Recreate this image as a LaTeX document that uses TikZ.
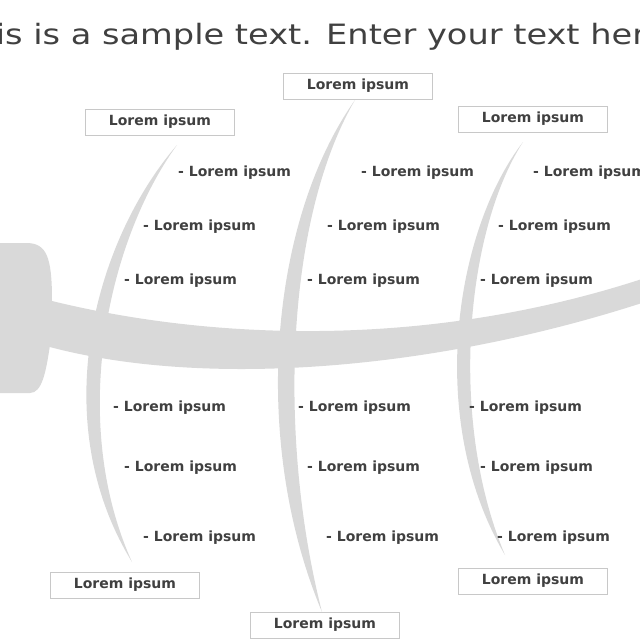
\documentclass[tikz,border=0pt]{standalone}
\usepackage{fontspec}
\setmainfont{DejaVu Sans}
\newfontfamily\titlefont[FakeStretch=1.2]{DejaVu Sans}
\usepackage{tikz}

\definecolor{bonegray}{HTML}{D9D9D9}
\definecolor{textgray}{HTML}{404040}
\definecolor{framegray}{HTML}{C8C8C8}

\tikzset{
  cause/.style={draw=framegray, line width=1pt, fill=white, minimum width=149pt,
    minimum height=26pt, inner sep=0pt, text=textgray,
    font=\fontsize{14}{16}\selectfont\bfseries},
  item/.style={anchor=west, inner sep=0pt, text=textgray,
    font=\fontsize{14}{16}\selectfont\bfseries},
  bone/.style={fill=bonegray, draw=none}
}

\begin{document}
\begin{tikzpicture}[x=1pt,y=-1pt]
    \useasboundingbox (0,0) rectangle (640,640);
    \clip (0,0) rectangle (640,640);
    %title, wider than the page
    \node[anchor=base, text=textgray, font=\titlefont\fontsize{28}{32}\selectfont] (title)
        at (310,44) {This is a sample text. Enter your text here};
    %head and spine
    \path[bone] (0,243) -- (28,243) .. controls (46,244) and (52,256) .. (52,300)
        -- (50,345) .. controls (46,372) and (42,393) .. (30,393) -- (0,393) -- cycle;
    \path[bone] (48,300) .. controls (200,338) and (420,352) .. (645,278)
        -- (645,302) .. controls (430,372) and (200,388) .. (46,346) -- cycle;
    %ribs
    \path[bone] (177,145) .. controls (95,240) and (45,420) .. (132,562)
        .. controls (68,420) and (108,240) .. (177,145) -- cycle;
    \path[bone] (355,100) .. controls (270,220) and (250,440) .. (322,612)
        .. controls (278,440) and (285,220) .. (355,100) -- cycle;
    \path[bone] (523,142) .. controls (455,230) and (425,420) .. (505,555)
        .. controls (448,420) and (466,230) .. (523,142) -- cycle;
    %cause boxes
    \node[cause] (top-a) at (160,122) {Lorem ipsum};
    \node[cause] (top-b) at (358,86) {Lorem ipsum};
    \node[cause] (top-c) at (533,119) {Lorem ipsum};
    \node[cause] (bot-a) at (125,585) {Lorem ipsum};
    \node[cause] (bot-b) at (325,625) {Lorem ipsum};
    \node[cause] (bot-c) at (533,581) {Lorem ipsum};
    %sub causes
    \node[item] (top-a-1) at (178,173) {- Lorem ipsum};
    \node[item] (top-a-2) at (143,227) {- Lorem ipsum};
    \node[item] (top-a-3) at (124,281) {- Lorem ipsum};
    \node[item] (top-b-1) at (361,173) {- Lorem ipsum};
    \node[item] (top-b-2) at (327,227) {- Lorem ipsum};
    \node[item] (top-b-3) at (307,281) {- Lorem ipsum};
    \node[item] (top-c-1) at (533,173) {- Lorem ipsum};
    \node[item] (top-c-2) at (498,227) {- Lorem ipsum};
    \node[item] (top-c-3) at (480,281) {- Lorem ipsum};
    \node[item] (bot-a-1) at (113,408) {- Lorem ipsum};
    \node[item] (bot-a-2) at (124,468) {- Lorem ipsum};
    \node[item] (bot-a-3) at (143,538) {- Lorem ipsum};
    \node[item] (bot-b-1) at (298,408) {- Lorem ipsum};
    \node[item] (bot-b-2) at (307,468) {- Lorem ipsum};
    \node[item] (bot-b-3) at (326,538) {- Lorem ipsum};
    \node[item] (bot-c-1) at (469,408) {- Lorem ipsum};
    \node[item] (bot-c-2) at (480,468) {- Lorem ipsum};
    \node[item] (bot-c-3) at (497,538) {- Lorem ipsum};
\end{tikzpicture}
\end{document}
